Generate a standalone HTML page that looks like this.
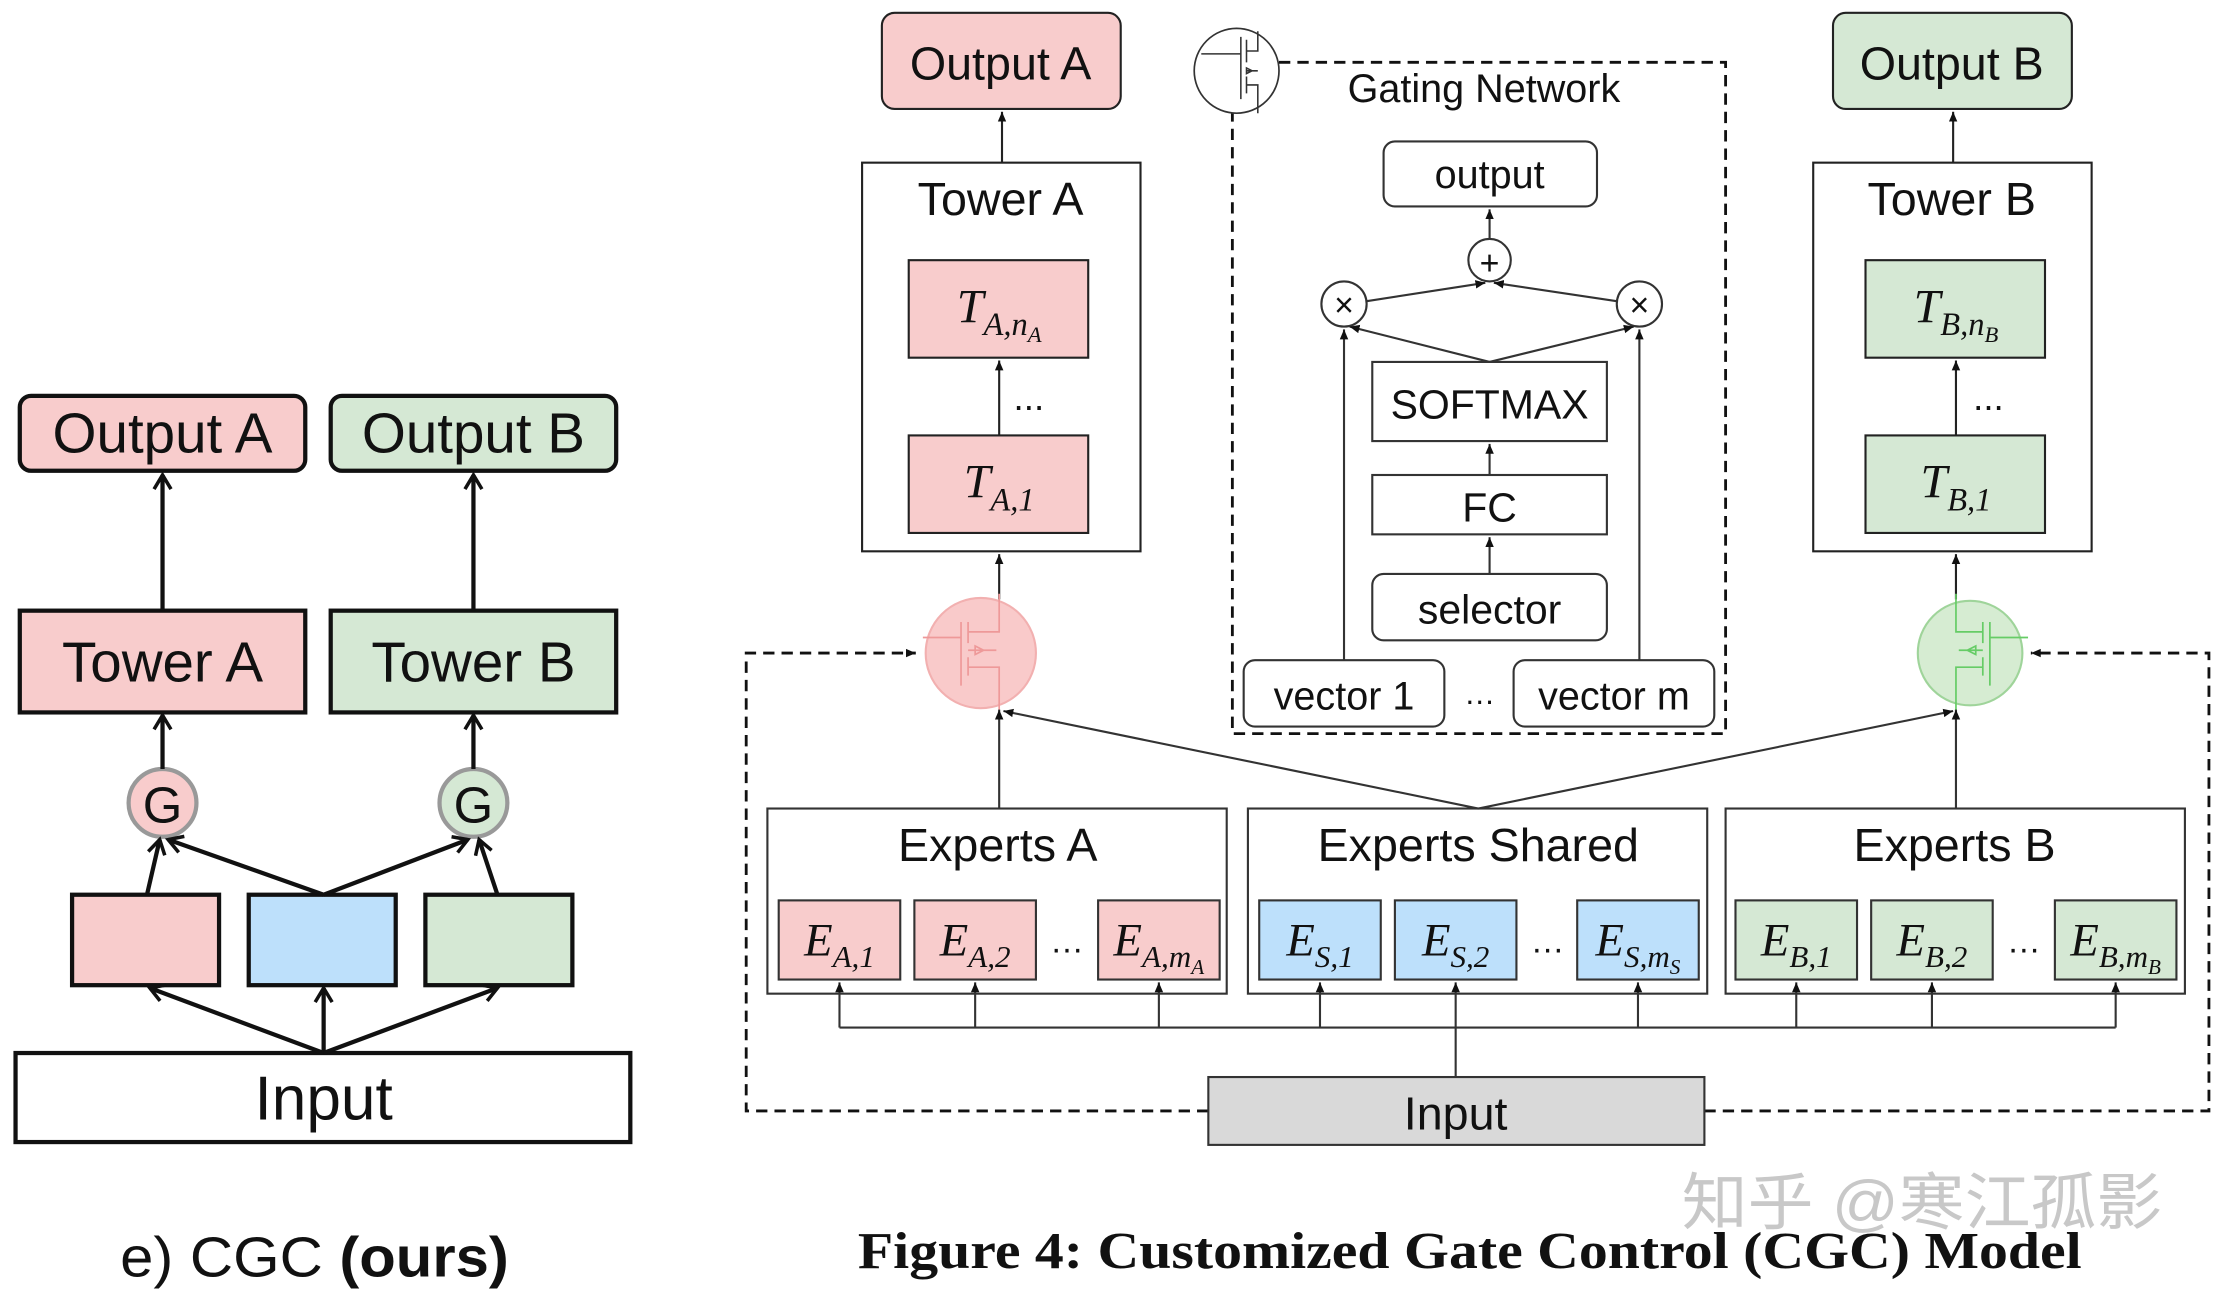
<!DOCTYPE html>
<html><head><meta charset="utf-8"><style>
html,body{margin:0;padding:0;background:#fff;}
svg{display:block;}
text{font-family:"Liberation Sans","DejaVu Sans",sans-serif;fill:#111;}
.m{font-family:"Liberation Serif","DejaVu Serif",serif;font-style:italic;}
</style></head><body>
<svg width="2216" height="1292" viewBox="0 0 1568 914" xmlns="http://www.w3.org/2000/svg">
<defs>
<marker id="oa" markerWidth="14" markerHeight="14" refX="11" refY="7" orient="auto" markerUnits="userSpaceOnUse"><path d="M1,1 L11,7 L1,13" fill="none" stroke="#111" stroke-width="2.5"/></marker>
<marker id="fa" markerWidth="8" markerHeight="8" refX="7" refY="4" orient="auto" markerUnits="userSpaceOnUse"><path d="M0,1 L7,4 L0,7 z" fill="#111"/></marker>
</defs>

<!-- LEFT PANEL -->
<g stroke="#111" stroke-width="3">
<rect x="14" y="280" width="202" height="53" rx="8" fill="#f8cccc"/>
<rect x="234" y="280" width="202" height="53" rx="8" fill="#d5e8d4"/>
<rect x="14" y="432" width="202" height="72" fill="#f8cccc"/>
<rect x="234" y="432" width="202" height="72" fill="#d5e8d4"/>
<rect x="51" y="633" width="104" height="64" fill="#f8cccc"/>
<rect x="176" y="633" width="104" height="64" fill="#bde0fb"/>
<rect x="301" y="633" width="104" height="64" fill="#d5e8d4"/>
<rect x="11" y="745" width="435" height="63" fill="#fff"/>
</g>
<circle cx="115" cy="568" r="24" fill="#f8cccc" stroke="#999" stroke-width="3"/>
<circle cx="335" cy="568" r="24" fill="#d5e8d4" stroke="#999" stroke-width="3"/>
<g stroke="#111" stroke-width="3" fill="none" marker-end="url(#oa)">
<line x1="115" y1="432" x2="115" y2="336"/>
<line x1="335" y1="432" x2="335" y2="336"/>
<line x1="115" y1="544" x2="115" y2="506"/>
<line x1="335" y1="544" x2="335" y2="506"/>
<line x1="104" y1="633" x2="113" y2="594"/>
<line x1="229" y1="633" x2="119" y2="594"/>
<line x1="229" y1="633" x2="331" y2="594"/>
<line x1="352" y1="633" x2="339" y2="594"/>
<line x1="229" y1="745" x2="106" y2="699"/>
<line x1="229" y1="745" x2="229" y2="699"/>
<line x1="229" y1="745" x2="352" y2="699"/>
</g>
<text x="115" y="320" font-size="40" text-anchor="middle">Output A</text>
<text x="335" y="320" font-size="40" text-anchor="middle">Output B</text>
<text x="115" y="482" font-size="40" text-anchor="middle">Tower A</text>
<text x="335" y="482" font-size="40" text-anchor="middle">Tower B</text>
<text x="115" y="582" font-size="36" text-anchor="middle">G</text>
<text x="335" y="582" font-size="36" text-anchor="middle">G</text>
<text x="229" y="792" font-size="44" text-anchor="middle">Input</text>
<text x="85" y="903" font-size="40" textLength="275" lengthAdjust="spacingAndGlyphs">e) CGC <tspan font-weight="bold">(ours)</tspan></text>

<!-- RIGHT PANEL -->
<g stroke="#111" stroke-width="2" fill="none" stroke-dasharray="8,5">
<polyline points="855,786 528,786 528,462 648,462" marker-end="url(#fa)"/>
<polyline points="1206,786 1563,786 1563,462 1437,462" marker-end="url(#fa)"/>
<polyline points="905,44 1221,44 1221,519 872,519 872,80"/>
</g>

<g stroke="#222" stroke-width="1.5">
<rect x="624" y="9" width="169" height="68" rx="9" fill="#f8cccc"/>
<rect x="1297" y="9" width="169" height="68" rx="9" fill="#d5e8d4"/>
<rect x="610" y="115" width="197" height="275" fill="#fff"/>
<rect x="1283" y="115" width="197" height="275" fill="#fff"/>
<rect x="643" y="184" width="127" height="69" fill="#f8cccc"/>
<rect x="643" y="308" width="127" height="69" fill="#f8cccc"/>
<rect x="1320" y="184" width="127" height="69" fill="#d5e8d4"/>
<rect x="1320" y="308" width="127" height="69" fill="#d5e8d4"/>
</g>
<text x="708" y="56" font-size="33" text-anchor="middle">Output A</text>
<text x="1381" y="56" font-size="33" text-anchor="middle">Output B</text>
<text x="708" y="152" font-size="33" text-anchor="middle">Tower A</text>
<text x="1381" y="152" font-size="33" text-anchor="middle">Tower B</text>
<text x="728" y="290" font-size="26" text-anchor="middle">...</text>
<text x="1407" y="290" font-size="26" text-anchor="middle">...</text>
<text class="m" x="707" y="228" font-size="34" text-anchor="middle">T<tspan font-size="23" dy="9">A,n</tspan><tspan font-size="16" dy="5">A</tspan></text>
<text class="m" x="707" y="352" font-size="34" text-anchor="middle">T<tspan font-size="23" dy="9">A,1</tspan></text>
<text class="m" x="1384" y="228" font-size="34" text-anchor="middle">T<tspan font-size="23" dy="9">B,n</tspan><tspan font-size="16" dy="5">B</tspan></text>
<text class="m" x="1384" y="352" font-size="34" text-anchor="middle">T<tspan font-size="23" dy="9">B,1</tspan></text>

<g stroke="#222" stroke-width="1.5" fill="none" marker-end="url(#fa)">
<line x1="709" y1="115" x2="709" y2="79"/>
<line x1="1382" y1="115" x2="1382" y2="79"/>
<line x1="707" y1="308" x2="707" y2="255"/>
<line x1="1384" y1="308" x2="1384" y2="255"/>
<line x1="707" y1="424" x2="707" y2="392"/>
<line x1="1384" y1="424" x2="1384" y2="392"/>
</g>

<circle cx="694" cy="462" r="39" fill="#f9caca" stroke="#f2b0b0" stroke-width="1.5"/>
<circle cx="1394" cy="462" r="37" fill="#d6ecd2" stroke="#9fd49a" stroke-width="1.5"/>
<g stroke="#e99" stroke-width="1.2" fill="none">
<path d="M653,451 H680 M680,440 V485 M685,440 V455 M685,465 V478 M685,447 H707 V420 M685,472 H707 V505 M685,460 H705 M696,460 l-6,-3 v6 z"/>
</g>
<g stroke="#6c6" stroke-width="1.2" fill="none">
<path d="M1435,451 H1408 M1408,440 V485 M1403,440 V455 M1403,465 V478 M1403,447 H1384 V420 M1403,472 H1384 V505 M1403,460 H1386 M1392,460 l6,-3 v6 z"/>
</g>
<circle cx="875" cy="50" r="30" fill="#fff" stroke="#333" stroke-width="1.2"/>
<path d="M850,38 H878 M878,26 V70 M882,28 V44 M882,54 V66 M882,36 H890 V22 M882,60 H890 V80 M882,50 H890 M886,50 l-4,-2 v4z" stroke="#333" stroke-width="1.1" fill="none"/>

<text x="1050" y="72" font-size="28" text-anchor="middle">Gating Network</text>

<g stroke="#333" stroke-width="1.5" fill="#fff">
<rect x="979" y="100" width="151" height="46" rx="8"/>
<rect x="971" y="256" width="166" height="56"/>
<rect x="971" y="336" width="166" height="42"/>
<rect x="971" y="406" width="166" height="47" rx="8"/>
<rect x="880" y="467" width="142" height="47" rx="8"/>
<rect x="1071" y="467" width="142" height="47" rx="8"/>
<circle cx="1054" cy="184" r="15"/>
<circle cx="951" cy="215" r="16"/>
<circle cx="1160" cy="215" r="16"/>
</g>
<text x="1054" y="133" font-size="28" text-anchor="middle">output</text>
<text x="1054" y="194" font-size="24" text-anchor="middle">+</text>
<text x="951" y="224" font-size="24" text-anchor="middle">×</text>
<text x="1160" y="224" font-size="24" text-anchor="middle">×</text>
<text x="1054" y="296" font-size="29" text-anchor="middle">SOFTMAX</text>
<text x="1054" y="369" font-size="29" text-anchor="middle">FC</text>
<text x="1054" y="441" font-size="29" text-anchor="middle">selector</text>
<text x="951" y="502" font-size="28" text-anchor="middle">vector 1</text>
<text x="1142" y="502" font-size="28" text-anchor="middle">vector m</text>
<text x="1047" y="498" font-size="22" text-anchor="middle">…</text>
<g stroke="#333" stroke-width="1.5" fill="none" marker-end="url(#fa)">
<line x1="1054" y1="169" x2="1054" y2="148"/>
<line x1="1054" y1="336" x2="1054" y2="314"/>
<line x1="1054" y1="406" x2="1054" y2="380"/>
<line x1="951" y1="467" x2="951" y2="233"/>
<line x1="1160" y1="467" x2="1160" y2="233"/>
<line x1="1054" y1="256" x2="955" y2="231"/>
<line x1="1054" y1="256" x2="1156" y2="231"/>
<line x1="967" y1="213" x2="1051" y2="200"/>
<line x1="1144" y1="213" x2="1057" y2="200"/>
</g>

<g stroke="#333" stroke-width="1.5">
<rect x="543" y="572" width="325" height="131" fill="#fff"/>
<rect x="883" y="572" width="325" height="131" fill="#fff"/>
<rect x="1221" y="572" width="325" height="131" fill="#fff"/>
<rect x="551" y="637" width="86" height="56" fill="#f8cccc"/>
<rect x="647" y="637" width="86" height="56" fill="#f8cccc"/>
<rect x="777" y="637" width="86" height="56" fill="#f8cccc"/>
<rect x="891" y="637" width="86" height="56" fill="#bde0fb"/>
<rect x="987" y="637" width="86" height="56" fill="#bde0fb"/>
<rect x="1116" y="637" width="86" height="56" fill="#bde0fb"/>
<rect x="1228" y="637" width="86" height="56" fill="#d5e8d4"/>
<rect x="1324" y="637" width="86" height="56" fill="#d5e8d4"/>
<rect x="1454" y="637" width="86" height="56" fill="#d5e8d4"/>
<rect x="855" y="762" width="351" height="48" fill="#d9d9d9"/>
</g>
<text x="706" y="609" font-size="33" text-anchor="middle">Experts A</text>
<text x="1046" y="609" font-size="33" text-anchor="middle">Experts Shared</text>
<text x="1383" y="609" font-size="33" text-anchor="middle">Experts B</text>
<text x="1030" y="799" font-size="33" text-anchor="middle">Input</text>
<g font-size="33" text-anchor="middle">
<text class="m" x="594" y="676">E<tspan font-size="22" dy="8">A,1</tspan></text>
<text class="m" x="690" y="676">E<tspan font-size="22" dy="8">A,2</tspan></text>
<text class="m" x="820" y="676">E<tspan font-size="22" dy="8">A,m</tspan><tspan font-size="15" dy="5">A</tspan></text>
<text class="m" x="934" y="676">E<tspan font-size="22" dy="8">S,1</tspan></text>
<text class="m" x="1030" y="676">E<tspan font-size="22" dy="8">S,2</tspan></text>
<text class="m" x="1159" y="676">E<tspan font-size="22" dy="8">S,m</tspan><tspan font-size="15" dy="5">S</tspan></text>
<text class="m" x="1271" y="676">E<tspan font-size="22" dy="8">B,1</tspan></text>
<text class="m" x="1367" y="676">E<tspan font-size="22" dy="8">B,2</tspan></text>
<text class="m" x="1497" y="676">E<tspan font-size="22" dy="8">B,m</tspan><tspan font-size="15" dy="5">B</tspan></text>
</g>
<text x="755" y="674" font-size="24" text-anchor="middle">…</text>
<text x="1095" y="674" font-size="24" text-anchor="middle">…</text>
<text x="1432" y="674" font-size="24" text-anchor="middle">…</text>

<g stroke="#333" stroke-width="1.5" fill="none">
<line x1="1030" y1="762" x2="1030" y2="727"/>
<line x1="594" y1="727" x2="1497" y2="727"/>
</g>
<g stroke="#333" stroke-width="1.5" fill="none" marker-end="url(#fa)">
<line x1="594" y1="727" x2="594" y2="695"/>
<line x1="690" y1="727" x2="690" y2="695"/>
<line x1="820" y1="727" x2="820" y2="695"/>
<line x1="934" y1="727" x2="934" y2="695"/>
<line x1="1030" y1="727" x2="1030" y2="695"/>
<line x1="1159" y1="727" x2="1159" y2="695"/>
<line x1="1271" y1="727" x2="1271" y2="695"/>
<line x1="1367" y1="727" x2="1367" y2="695"/>
<line x1="1497" y1="727" x2="1497" y2="695"/>
<line x1="707" y1="572" x2="707" y2="502"/>
<line x1="1046" y1="572" x2="710" y2="503"/>
<line x1="1046" y1="572" x2="1382" y2="503"/>
<line x1="1384" y1="572" x2="1384" y2="502"/>
</g>

<text x="1190" y="866" font-size="44" textLength="340" lengthAdjust="spacingAndGlyphs" style="fill:#c8c8c8;font-family:'Liberation Sans','Noto Sans CJK SC',sans-serif;">知乎 @寒江孤影</text>
<text x="607" y="897" font-size="37" font-weight="bold" textLength="866" lengthAdjust="spacingAndGlyphs" style="font-family:'Liberation Serif',serif;">Figure 4: Customized Gate Control (CGC) Model</text>
</svg>
</body></html>
